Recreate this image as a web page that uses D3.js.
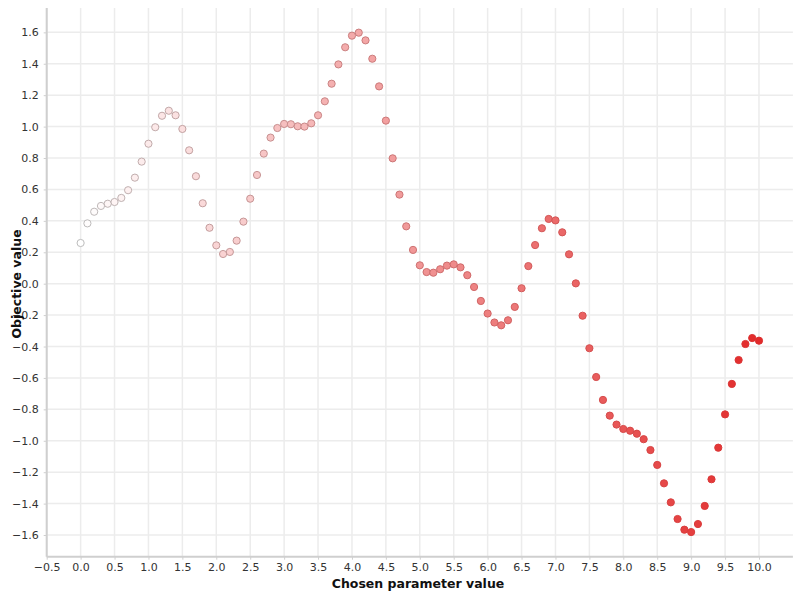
<!DOCTYPE html>
<html><head><meta charset="utf-8">
<script src="https://cdn.jsdelivr.net/npm/d3@7"></script>
<style>body{margin:0;background:#fff;} text{font-family:"DejaVu Sans",sans-serif;}</style>
</head><body><svg id="c" width="796" height="597"></svg>
<script>
const xValues = [0.0,0.1,0.2,0.3,0.4,0.5,0.6,0.7,0.8,0.9,1.0,1.1,1.2,1.3,1.4,1.5,1.6,1.7,1.8,1.9,2.0,2.1,2.2,2.3,2.4,2.5,2.6,2.7,2.8,2.9,3.0,3.1,3.2,3.3,3.4,3.5,3.6,3.7,3.8,3.9,4.0,4.1,4.2,4.3,4.4,4.5,4.6,4.7,4.8,4.9,5.0,5.1,5.2,5.3,5.4,5.5,5.6,5.7,5.8,5.9,6.0,6.1,6.2,6.3,6.4,6.5,6.6,6.7,6.8,6.9,7.0,7.1,7.2,7.3,7.4,7.5,7.6,7.7,7.8,7.9,8.0,8.1,8.2,8.3,8.4,8.5,8.6,8.7,8.8,8.9,9.0,9.1,9.2,9.3,9.4,9.5,9.6,9.7,9.8,9.9,10.0];
const yValues = [0.259,0.384,0.458,0.495,0.509,0.520,0.546,0.595,0.675,0.777,0.891,0.996,1.069,1.101,1.072,0.985,0.849,0.684,0.512,0.356,0.244,0.189,0.202,0.274,0.395,0.541,0.692,0.828,0.930,0.991,1.017,1.015,1.002,1.000,1.021,1.072,1.161,1.273,1.396,1.505,1.579,1.598,1.549,1.432,1.256,1.038,0.798,0.567,0.365,0.215,0.117,0.074,0.070,0.092,0.115,0.123,0.104,0.054,-0.021,-0.110,-0.190,-0.247,-0.265,-0.233,-0.148,-0.029,0.112,0.246,0.353,0.412,0.403,0.327,0.187,0.002,-0.204,-0.411,-0.594,-0.740,-0.840,-0.897,-0.925,-0.936,-0.955,-0.990,-1.059,-1.154,-1.271,-1.392,-1.498,-1.566,-1.581,-1.530,-1.415,-1.245,-1.044,-0.832,-0.638,-0.486,-0.384,-0.346,-0.363];
const xTicks = [-0.5,0.0,0.5,1.0,1.5,2.0,2.5,3.0,3.5,4.0,4.5,5.0,5.5,6.0,6.5,7.0,7.5,8.0,8.5,9.0,9.5,10.0];
const yTicks = [-1.6,-1.4,-1.2,-1.0,-0.8,-0.6,-0.4,-0.2,0.0,0.2,0.4,0.6,0.8,1.0,1.2,1.4,1.6];
const xTitle = "Chosen parameter value";
const yTitle = "Objective value";

const svg = d3.select("#c");
const L = 46.7, R = 792.9, T = 8, B = 556.7;
const x = d3.scaleLinear().domain([-0.5, 10.5]).range([L, R]);
const y = d3.scaleLinear().domain([-1.738, 1.755]).range([B, T]);

// grid
const g = svg.append("g");
g.selectAll("line.vx").data(xTicks).enter().append("line")
  .attr("x1", d => x(d)).attr("x2", d => x(d)).attr("y1", T).attr("y2", B)
  .attr("stroke", "#ececec").attr("stroke-width", 1.5);
g.selectAll("line.hy").data(yTicks).enter().append("line")
  .attr("y1", d => y(d)).attr("y2", d => y(d)).attr("x1", L).attr("x2", R)
  .attr("stroke", "#ececec").attr("stroke-width", 1.5);

// axes
const xAxis = d3.axisBottom(x).tickValues(xTicks).tickFormat(d3.format(".1f")).tickSize(3).tickPadding(4);
const yAxis = d3.axisLeft(y).tickValues(yTicks).tickFormat(d3.format(".1f")).tickSize(3).tickPadding(5);
const gx = svg.append("g").attr("transform", `translate(0,${B})`).call(xAxis);
const gy = svg.append("g").attr("transform", `translate(${L},0)`).call(yAxis);
[gx, gy].forEach(a => {
  a.select(".domain").attr("stroke", "#cfcfcf").attr("stroke-width", 2);
  a.selectAll(".tick line").attr("stroke", "#cfcfcf");
  a.selectAll(".tick text").attr("fill", "#333").style("font-size", "11px").style("font-family", "DejaVu Sans");
});
gx.select(".domain").attr("d", `M${L},0H${R}`);
gy.select(".domain").attr("d", `M0,${T}V${B}`);

// titles
svg.append("text").attr("x", 418).attr("y", 588).attr("text-anchor", "middle")
  .style("font-size", "12.5px").style("font-weight", "bold").attr("fill", "#111").text(xTitle);
svg.append("text").attr("transform", "translate(21,284) rotate(-90)").attr("text-anchor", "middle")
  .style("font-size", "12.5px").style("font-weight", "bold").attr("fill", "#111").text(yTitle);

// points
const n = xValues.length;
const fillC = d3.interpolateRgb("#ffffff", "#e22a2a");
const strokeC = d3.interpolateRgb("#bdbdbd", "#dc3030");
svg.append("g").selectAll("circle").data(xValues).enter().append("circle")
  .attr("cx", d => x(d)).attr("cy", (d, i) => y(yValues[i])).attr("r", 3.6)
  .attr("fill", (d, i) => fillC(i / (n - 1)))
  .attr("stroke", (d, i) => strokeC(Math.pow(i / (n - 1), 0.9)))
  .attr("stroke-width", 1);
</script></body></html>
